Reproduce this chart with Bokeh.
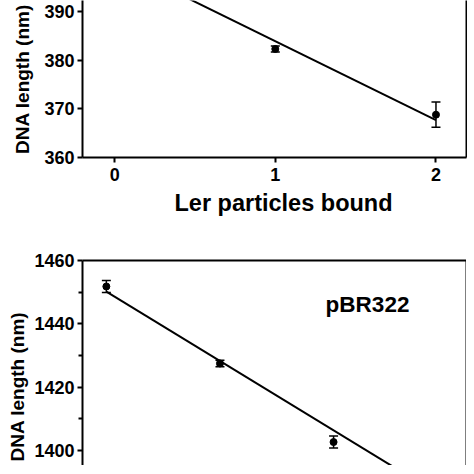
from bokeh.plotting import figure
from bokeh.layouts import column
from bokeh.models import (ColumnDataSource, Whisker, TeeHead, LinearAxis, FixedTicker,
                          Range1d, Title, Label)
from bokeh.embed import file_html
from bokeh.resources import INLINE

# ---------------- data ----------------
top_x = [0, 1, 2]
top_y = [399.5, 382.3, 368.8]
top_err = [1.0, 0.6, 2.6]
top_fit_x = [0, 2]
top_fit_y = [400.1, 367.7]
top_xticks = [0, 1, 2]
top_yticks = [360, 370, 380, 390]

bot_x = [0, 1, 2]
bot_y = [1451.8, 1427.5, 1402.7]
bot_err = [1.9, 1.0, 1.9]
bot_fit_x = [0, 3]
bot_fit_y = [1450.2, 1384.5]
bot_yticks = [1400, 1420, 1440, 1460]
bot_minor = [1410, 1430, 1450]
bot_label = "pBR322"
bot_label_pos = (1.93, 1446.0)

x_label = "Ler particles bound"
y_label = "DNA length (nm)"

FONT = "Liberation Sans"
TICK_SIZE = "18px"
LABEL_SIZE = "23.5px"
YLABEL_SIZE = "19px"


def style_axis(ax):
    ax.axis_line_width = 2
    ax.axis_line_color = "black"
    ax.major_tick_line_width = 2
    ax.major_tick_line_color = "black"
    ax.minor_tick_line_width = 2
    ax.minor_tick_line_color = "black"
    ax.major_tick_in = 0
    ax.major_tick_out = 5
    ax.minor_tick_in = 0
    ax.minor_tick_out = 4
    ax.major_label_text_font = FONT
    ax.major_label_text_font_style = "bold"
    ax.major_label_text_font_size = TICK_SIZE
    ax.major_label_text_color = "black"


def border_axis(loc, p):
    ax = LinearAxis(ticker=FixedTicker(ticks=[]), axis_line_width=2,
                    major_tick_out=0, major_tick_in=0, minor_tick_out=0, minor_tick_in=0,
                    major_label_text_font_size="0px", axis_label=None)
    p.add_layout(ax, loc)


def add_points(p, xs, ys, errs, fx, fy):
    src = ColumnDataSource(dict(x=xs, y=ys,
                                lo=[a - b for a, b in zip(ys, errs)],
                                hi=[a + b for a, b in zip(ys, errs)]))
    p.line(fx, fy, line_color="black", line_width=2)
    w = Whisker(source=src, base="x", lower="lo", upper="hi",
                line_color="black", line_width=1.5,
                upper_head=TeeHead(size=9, line_color="black", line_width=1.5),
                lower_head=TeeHead(size=9, line_color="black", line_width=1.5))
    p.add_layout(w)
    p.scatter("x", "y", source=src, size=7, color="black")


# ---------------- top panel ----------------
p1 = figure(frame_width=384, frame_height=157, output_backend="svg", toolbar_location=None,
            x_range=Range1d(-0.2, 2.19), y_range=Range1d(360, 392.26),
            min_border_left=80, min_border_right=1, min_border_top=0, min_border_bottom=90)
p1.outline_line_color = None
p1.grid.visible = False
p1.xaxis.ticker = FixedTicker(ticks=top_xticks)
p1.yaxis.ticker = FixedTicker(ticks=top_yticks)
style_axis(p1.xaxis[0])
style_axis(p1.yaxis[0])
p1.xaxis.major_label_standoff = 5
p1.yaxis.major_label_standoff = 3
border_axis("right", p1)
p1.add_layout(Title(text=x_label, align="left", offset=92, standoff=8, text_color="black",
                    text_font=FONT, text_font_style="bold", text_font_size=LABEL_SIZE), "below")
p1.add_layout(Title(text=y_label, align="center", standoff=18, text_color="black",
                    text_font=FONT, text_font_style="bold", text_font_size=YLABEL_SIZE), "left")
add_points(p1, top_x, top_y, top_err, top_fit_x, top_fit_y)

# ---------------- bottom panel ----------------
p2 = figure(frame_width=384, frame_height=205, output_backend="svg", toolbar_location=None,
            x_range=Range1d(-0.21, 3.17), y_range=Range1d(1395.3, 1460),
            min_border_left=80, min_border_right=1, min_border_top=13, min_border_bottom=0)
p2.outline_line_color = None
p2.grid.visible = False
p2.xaxis.visible = False
p2.yaxis.ticker = FixedTicker(ticks=bot_yticks, minor_ticks=bot_minor)
style_axis(p2.yaxis[0])
p2.yaxis.major_label_standoff = 3
border_axis("right", p2)
border_axis("above", p2)
p2.add_layout(Title(text=y_label, align="left", offset=4, standoff=7, text_color="black",
                    text_font=FONT, text_font_style="bold", text_font_size=YLABEL_SIZE), "left")
add_points(p2, bot_x, bot_y, bot_err, bot_fit_x, bot_fit_y)
p2.add_layout(Label(x=bot_label_pos[0], y=bot_label_pos[1], text=bot_label,
                    text_font=FONT, text_font_style="bold", text_font_size="22.5px",
                    text_color="black", text_baseline="alphabetic"))

layout = column(p1, p2, spacing=0)
open("out.html", "w").write(file_html(layout, INLINE))
